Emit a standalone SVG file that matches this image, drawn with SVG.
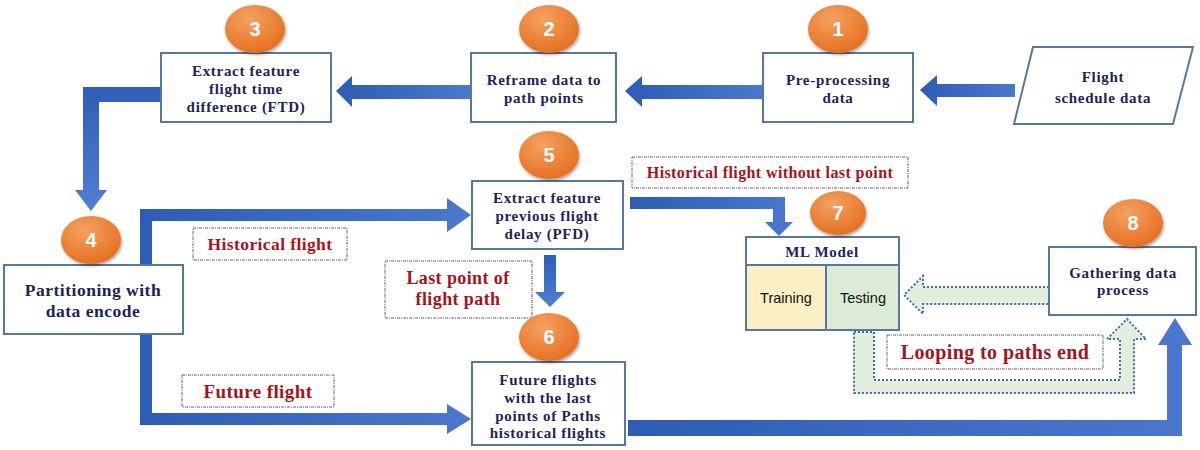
<svg xmlns="http://www.w3.org/2000/svg" width="1200" height="450" viewBox="0 0 1200 450">
<defs>
<linearGradient id="blue" x1="0" y1="0" x2="1" y2="0">
<stop offset="0" stop-color="#2d5cb6"/>
<stop offset="1" stop-color="#4a78cf"/>
</linearGradient>
<linearGradient id="blueV" x1="0" y1="0" x2="0" y2="1">
<stop offset="0" stop-color="#2f5eb8"/>
<stop offset="1" stop-color="#4f7fd3"/>
</linearGradient>
<radialGradient id="orange" cx="0.4" cy="0.3" r="0.75">
<stop offset="0" stop-color="#f4a262"/>
<stop offset="1" stop-color="#e56d1b"/>
</radialGradient>
<filter id="sh" x="-30%" y="-30%" width="160%" height="170%">
<feDropShadow dx="1" dy="2" stdDeviation="1.5" flood-color="#000" flood-opacity="0.35"/>
</filter>
<style>
.box{fill:#fff;stroke:#5578a2;stroke-width:2}
.t{font-family:"Liberation Serif","Times New Roman",serif;font-weight:bold;fill:#1b2459;text-anchor:middle;font-size:15px;letter-spacing:0.7px}
.red{font-family:"Liberation Serif","Times New Roman",serif;font-weight:bold;fill:#a8131a;text-anchor:middle;font-size:17.5px;letter-spacing:0.4px}
.lbl{fill:#fff;stroke:#666;stroke-width:1;stroke-dasharray:3 1 1 1}
.num{font-family:"Liberation Sans",Arial,sans-serif;font-weight:bold;fill:#fff;text-anchor:middle;font-size:20px}
.circ{fill:url(#orange);filter:url(#sh)}
.arr{fill:url(#blue)}
.dot{fill:#e2eedb;stroke:#3b6db5;stroke-width:2;stroke-dasharray:2 2}
.sans{font-family:"Liberation Sans",Arial,sans-serif;fill:#111;text-anchor:middle;font-size:14.5px}
</style>
</defs>
<rect width="1200" height="450" fill="#fff"/>

<g id="connectors">
<polygon class="arr" points="1015,84 937,84 937,75 920,90 937,106 937,97 1015,97"/>
<polygon class="arr" points="762,85 642,85 642,76 625,91 642,107 642,99 762,99"/>
<polygon class="arr" points="470,85 352,85 352,76 336,91 352,107 352,99 470,99"/>
<polygon fill="url(#blueV)" points="160,87 83,87 83,190 75,190 91,211 107,190 99,190 99,102 160,102"/>
<polygon class="arr" points="140,209 447,209 447,198 471,215 447,232 447,221 152,221 152,413 447,413 447,404 471,419 447,434 447,425 140,425"/>
<polygon class="arr" points="630,197 785,197 785,222 793,222 779,236 765,222 773,222 773,209 630,209"/>
<polygon fill="url(#blueV)" points="544,255 556,255 556,292 565,292 550,307 535,292 544,292"/>
<polygon class="arr" points="628,420 1167,420 1167,345 1158,345 1175,318 1192,345 1182,345 1182,436 628,436"/>
<polygon class="dot" points="1049,287 923,287 923,276 904,295 923,314 923,304 1049,304"/>
<polygon class="dot" points="854,332 874,332 874,380 1120,380 1120,339 1107,339 1127,319 1146,339 1134,339 1134,393 854,393"/>
</g>

<g id="label-hist-nolast">
<rect class="lbl" x="632" y="157" width="276" height="31"/>
<text class="red" x="770" y="178" style="font-size:16px">Historical flight without last point</text>
</g>
<g id="label-historical">
<rect class="lbl" x="193" y="228" width="154" height="32"/>
<text class="red" x="270" y="250">Historical flight</text>
</g>
<g id="label-future">
<rect class="lbl" x="182" y="375" width="152" height="32"/>
<text class="red" x="258" y="398" style="font-size:19px">Future flight</text>
</g>
<g id="label-lastpoint">
<rect class="lbl" x="385" y="261" width="147" height="57"/>
<text class="red" x="458" y="284" style="font-size:18px">Last point of</text>
<text class="red" x="458" y="305" style="font-size:18px">flight path</text>
</g>
<g id="label-looping">
<rect class="lbl" x="887" y="335" width="216" height="34"/>
<text class="red" x="995" y="359" style="font-size:20px">Looping to paths end</text>
</g>

<g id="node-flight-schedule">
<polygon class="box" points="1033,47 1193,47 1173,124 1014,124"/>
<text class="t" x="1103" y="82">Flight</text>
<text class="t" x="1103" y="103">schedule data</text>
</g>

<g id="node-1">
<rect class="box" x="763" y="53" width="150" height="69"/>
<text class="t" x="838" y="85">Pre-processing</text>
<text class="t" x="838" y="103">data</text>
<ellipse class="circ" cx="838" cy="29" rx="30" ry="24"/>
<text class="num" x="838" y="36">1</text>
</g>

<g id="node-2">
<rect class="box" x="471" y="53" width="145" height="69"/>
<text class="t" x="544" y="85">Reframe data to</text>
<text class="t" x="544" y="103">path points</text>
<ellipse class="circ" cx="549" cy="29" rx="30" ry="24"/>
<text class="num" x="549" y="36">2</text>
</g>

<g id="node-3">
<rect class="box" x="161" y="53" width="170" height="69"/>
<text class="t" x="246" y="76">Extract feature</text>
<text class="t" x="246" y="94">flight time</text>
<text class="t" x="246" y="112">difference (FTD)</text>
<ellipse class="circ" cx="255" cy="29" rx="30" ry="24"/>
<text class="num" x="255" y="36">3</text>
</g>

<g id="node-4">
<rect class="box" x="4" y="265" width="179" height="69"/>
<text class="t" x="93" y="296" style="font-size:17.5px;letter-spacing:0.5px">Partitioning with</text>
<text class="t" x="93" y="317" style="font-size:17.5px;letter-spacing:0.5px">data encode</text>
<ellipse class="circ" cx="91" cy="240" rx="30" ry="24"/>
<text class="num" x="91" y="247">4</text>
</g>

<g id="node-5">
<rect class="box" x="472" y="181" width="151" height="68"/>
<text class="t" x="547" y="203">Extract feature</text>
<text class="t" x="547" y="221">previous flight</text>
<text class="t" x="547" y="239">delay (PFD)</text>
<ellipse class="circ" cx="549" cy="155" rx="30" ry="24"/>
<text class="num" x="549" y="162">5</text>
</g>

<g id="node-6">
<rect class="box" x="472" y="362" width="153" height="83"/>
<text class="t" x="548" y="385">Future flights</text>
<text class="t" x="548" y="403">with the last</text>
<text class="t" x="548" y="421">points of Paths</text>
<text class="t" x="548" y="438">historical flights</text>
<ellipse class="circ" cx="549" cy="337" rx="30" ry="24"/>
<text class="num" x="549" y="344">6</text>
</g>

<g id="node-7">
<rect class="box" x="746" y="237" width="153" height="28"/>
<text class="t" x="822" y="257">ML Model</text>
<rect x="746" y="265" width="80" height="65" fill="#fcefc3" stroke="#5578a2" stroke-width="2"/>
<rect x="826" y="265" width="73" height="65" fill="#dcebd5" stroke="#5578a2" stroke-width="2"/>
<text class="sans" x="786" y="303">Training</text>
<text class="sans" x="863" y="303">Testing</text>
<ellipse class="circ" cx="838" cy="213" rx="28" ry="22"/>
<text class="num" x="838" y="220">7</text>
</g>

<g id="node-8">
<rect class="box" x="1049" y="247" width="147" height="68"/>
<text class="t" x="1123" y="278">Gathering data</text>
<text class="t" x="1123" y="295">process</text>
<ellipse class="circ" cx="1133" cy="223" rx="30" ry="24"/>
<text class="num" x="1133" y="230">8</text>
</g>
</svg>
